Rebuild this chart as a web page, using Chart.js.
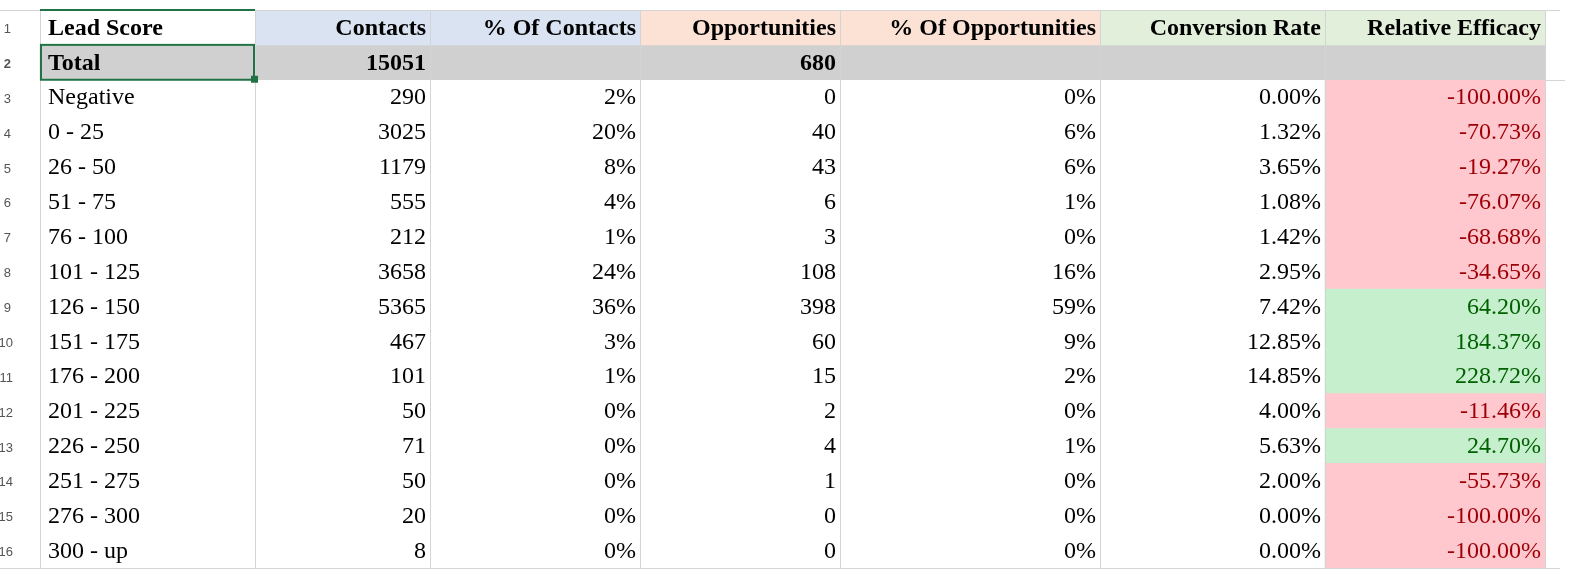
<!DOCTYPE html>
<html>
<head>
<meta charset="utf-8">
<script src="https://cdn.jsdelivr.net/npm/chart.js@4"></script>
<style>
  body { margin: 0; background: #fff; }
  #wrap { width: 1572px; height: 572px; }
</style>
</head>
<body>
<div id="wrap"><canvas id="sheet"></canvas></div>
<script>
// data
const headers = ["Lead Score", "Contacts", "% Of Contacts", "Opportunities", "% Of Opportunities", "Conversion Rate", "Relative Efficacy"];
const leadScores = ["Negative", "0 - 25", "26 - 50", "51 - 75", "76 - 100", "101 - 125", "126 - 150", "151 - 175", "176 - 200", "201 - 225", "226 - 250", "251 - 275", "276 - 300", "300 - up"];
const contacts = [290, 3025, 1179, 555, 212, 3658, 5365, 467, 101, 50, 71, 50, 20, 8];
const pctContacts = [2, 20, 8, 4, 1, 24, 36, 3, 1, 0, 0, 0, 0, 0];
const opportunities = [0, 40, 43, 6, 3, 108, 398, 60, 15, 2, 4, 1, 0, 0];
const pctOpportunities = [0, 6, 6, 1, 0, 16, 59, 9, 2, 0, 1, 0, 0, 0];
const conversionRate = [0.00, 1.32, 3.65, 1.08, 1.42, 2.95, 7.42, 12.85, 14.85, 4.00, 5.63, 2.00, 0.00, 0.00];
const relativeEfficacy = [-100.00, -70.73, -19.27, -76.07, -68.68, -34.65, 64.20, 184.37, 228.72, -11.46, 24.70, -55.73, -100.00, -100.00];
const totalContacts = 15051;
const totalOpportunities = 680;

// layout of the sheet (pixel units on the x scale)
const colEdges = [0, 40, 255, 430, 640, 840, 1100, 1325, 1545];
const rowNames = [];
for (let i = 1; i <= 16; i++) rowNames.push(String(i));

function band(col, rows, color) {
  return {
    data: rowNames.map((r, i) => rows(i) ? [colEdges[col], colEdges[col + 1]] : null),
    backgroundColor: rowNames.map((r, i) => typeof color === "function" ? color(i) : color),
    borderWidth: 0,
    barPercentage: 1,
    categoryPercentage: 1,
  };
}

const headerFill = ["#ffffff", "#dae3f1", "#dae3f1", "#fbe2d5", "#fbe2d5", "#e2efda", "#e2efda"];
const datasets = [];
for (let c = 0; c < 7; c++) {
  datasets.push(band(c + 1, i => i === 0, headerFill[c]));
  datasets.push(band(c + 1, i => i === 1, "#d0d0d0"));
}
datasets.push(band(7, i => i >= 2, i => (relativeEfficacy[i - 2] >= 0 ? "#c6efce" : "#ffc7ce")));

const textPlugin = {
  id: "sheetText",
  afterDatasetsDraw(chart) {
    const ctx = chart.ctx;
    const x = chart.scales.x, y = chart.scales.y;
    const rowH = y.getPixelForValue(1) - y.getPixelForValue(0);
    const top = y.getPixelForValue(0) - rowH / 2;
    const bottom = y.getPixelForValue(15) + rowH / 2;
    ctx.save();
    // grid
    ctx.strokeStyle = "#d4d4d4";
    ctx.lineWidth = 1;
    colEdges.slice(1).forEach(e => {
      const px = Math.round(x.getPixelForValue(e)) + 0.5;
      ctx.beginPath(); ctx.moveTo(px, top); ctx.lineTo(px, bottom); ctx.stroke();
    });
    [top, bottom].forEach(py => {
      ctx.beginPath(); ctx.moveTo(0, Math.round(py) + 0.5); ctx.lineTo(1560, Math.round(py) + 0.5); ctx.stroke();
    });
    ctx.beginPath(); ctx.moveTo(1545, Math.round(top + 2 * rowH) + 0.5); ctx.lineTo(1565, Math.round(top + 2 * rowH) + 0.5); ctx.stroke();

    // row numbers
    ctx.fillStyle = "#555";
    ctx.textBaseline = "middle";
    ctx.textAlign = "right";
    rowNames.forEach((r, i) => {
      ctx.font = (i === 1 ? "bold " : "") + "13px 'Liberation Sans'";
      ctx.fillText(r, i >= 9 ? 13 : 11, y.getPixelForValue(i) + 2);
    });

    const cell = (col, row, txt, bold, color, left) => {
      ctx.font = (bold ? "bold " : "") + "24px 'Liberation Serif'";
      ctx.fillStyle = color || "#000";
      ctx.textAlign = left ? "left" : "right";
      const px = left ? x.getPixelForValue(colEdges[col]) + 8 : x.getPixelForValue(colEdges[col + 1]) - 4;
      ctx.fillText(txt, px, y.getPixelForValue(row) + 1);
    };
    headers.forEach((h, c) => cell(c + 1, 0, h, true, null, c === 0));
    cell(1, 1, "Total", true, null, true);
    cell(2, 1, String(totalContacts), true);
    cell(4, 1, String(totalOpportunities), true);
    leadScores.forEach((s, i) => {
      const r = i + 2;
      cell(1, r, s, false, null, true);
      cell(2, r, String(contacts[i]));
      cell(3, r, pctContacts[i] + "%");
      cell(4, r, String(opportunities[i]));
      cell(5, r, pctOpportunities[i] + "%");
      cell(6, r, conversionRate[i].toFixed(2) + "%");
      cell(7, r, relativeEfficacy[i].toFixed(2) + "%", false, relativeEfficacy[i] >= 0 ? "#006100" : "#9c0006");
    });

    // selected cell
    const sx0 = x.getPixelForValue(colEdges[1]), sx1 = x.getPixelForValue(colEdges[2]);
    ctx.strokeStyle = "#217346";
    ctx.lineWidth = 2;
    ctx.strokeRect(sx0 + 1, top + rowH, sx1 - sx0 - 2, rowH);
    ctx.beginPath(); ctx.moveTo(sx0, top); ctx.lineTo(sx1, top); ctx.stroke();
    ctx.fillStyle = "#217346";
    ctx.fillRect(sx1 - 4, top + 2 * rowH - 4, 7, 7);
    ctx.restore();
  }
};

new Chart(document.getElementById("sheet"), {
  type: "bar",
  data: { labels: rowNames, datasets: datasets },
  options: {
    indexAxis: "y",
    responsive: true,
    maintainAspectRatio: false,
    animation: false,
    layout: { padding: { top: 10, bottom: 4, left: 0, right: 0 } },
    plugins: { legend: { display: false }, tooltip: { enabled: false } },
    scales: {
      x: { type: "linear", min: 0, max: 1572, display: false },
      y: { type: "category", stacked: true, display: false, offset: true },
    },
  },
  plugins: [textPlugin],
});
</script>
</body>
</html>
